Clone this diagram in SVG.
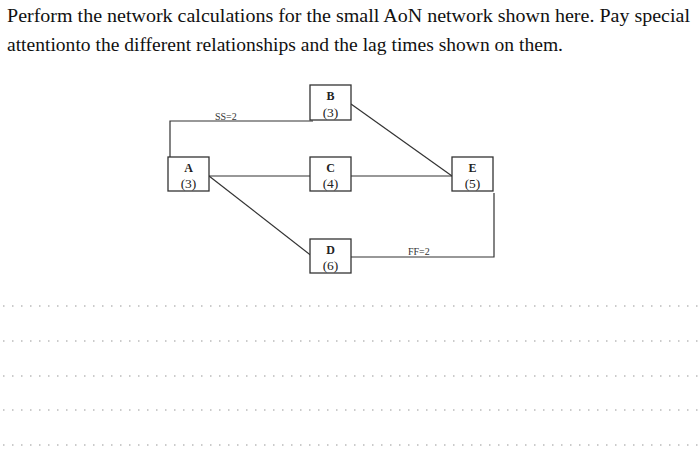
<svg xmlns="http://www.w3.org/2000/svg" width="700" height="475" viewBox="0 0 700 475">
<style>
.t{font-family:"Liberation Serif",serif;font-size:19.5px;fill:#111}
.n rect{fill:#fff;stroke:#333;stroke-width:1.3}
.n text{font-family:"Liberation Serif",serif;fill:#222;text-anchor:middle}
.b{font-weight:bold;font-size:12px}
.d{font-size:13.5px}
.c path{fill:none;stroke:#333;stroke-width:1.2}
.l{font-family:"Liberation Serif",serif;font-size:10px;fill:#333}
.dot{stroke:#bbb;stroke-width:1.5;stroke-dasharray:1.5 7.5}
</style>
<rect width="700" height="475" fill="#fff"/>
<text class="t" x="7" y="22" textLength="683" lengthAdjust="spacingAndGlyphs">Perform the network calculations for the small AoN network shown here. Pay special</text>
<text class="t" x="7" y="51" textLength="556" lengthAdjust="spacingAndGlyphs">attentionto the different relationships and the lag times shown on them.</text>
<g class="c">
<path d="M170,157 V121 H313"/>
<path d="M209,176 H313"/>
<path d="M351,176 H452"/>
<path d="M351,104 L452,176"/>
<path d="M209,176 L313,257"/>
<path d="M494,193 V257 H351"/>
</g>
<text class="l" x="215" y="120">SS=2</text>
<text class="l" x="408" y="255">FF=2</text>
<g id="A" class="n"><rect x="168" y="157" width="41" height="34"/><text class="b" x="188.5" y="172">A</text><text class="d" x="188.5" y="188">(3)</text></g>
<g id="B" class="n"><rect x="310" y="85" width="41" height="35"/><text class="b" x="330.5" y="100">B</text><text class="d" x="330.5" y="117">(3)</text></g>
<g id="C" class="n"><rect x="310" y="157" width="41" height="34"/><text class="b" x="330.5" y="172">C</text><text class="d" x="330.5" y="188">(4)</text></g>
<g id="E" class="n"><rect x="452" y="157" width="41" height="34"/><text class="b" x="472.5" y="172">E</text><text class="d" x="472.5" y="188">(5)</text></g>
<g id="D" class="n"><rect x="310" y="239" width="41" height="34"/><text class="b" x="330.5" y="254">D</text><text class="d" x="330.5" y="270">(6)</text></g>
<g>
<line class="dot" x1="3" y1="306" x2="700" y2="306"/>
<line class="dot" x1="3" y1="341" x2="700" y2="341"/>
<line class="dot" x1="3" y1="376" x2="700" y2="376"/>
<line class="dot" x1="3" y1="410" x2="700" y2="410"/>
<line class="dot" x1="3" y1="445" x2="700" y2="445"/>
</g>
</svg>
